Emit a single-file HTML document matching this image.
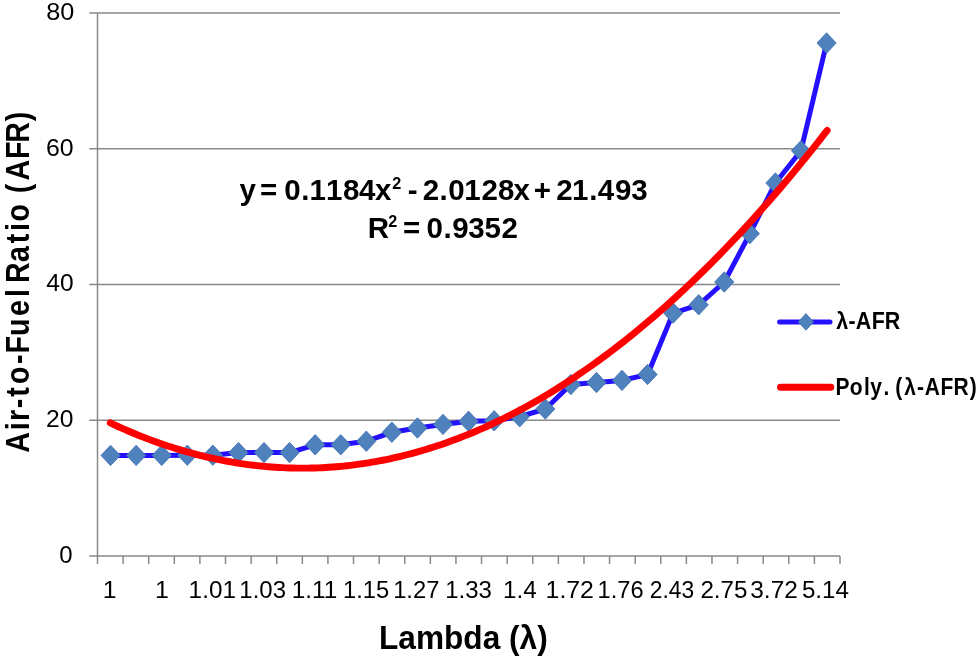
<!DOCTYPE html>
<html><head><meta charset="utf-8"><title>Air-to-Fuel Ratio vs Lambda</title>
<style>html,body{margin:0;padding:0;background:#fff;width:979px;height:659px;overflow:hidden}svg{display:block}</style>
</head><body>
<svg width="979" height="659" viewBox="0 0 979 659" font-family="Liberation Sans, Arial, sans-serif" fill="#000">
<rect width="979" height="659" fill="#fff"/>
<path d="M97.5 420.23H840.0M97.5 284.45H840.0M97.5 148.67H840.0M97.5 12.90H840.0M89.3 556.00H97.50M89.3 420.23H97.50M89.3 284.45H97.50M89.3 148.67H97.50M89.3 12.90H97.50M97.50 556.00H840.00M97.50 556.00V564.00M123.10 556.00V564.00M148.71 556.00V564.00M174.31 556.00V564.00M199.91 556.00V564.00M225.52 556.00V564.00M251.12 556.00V564.00M276.72 556.00V564.00M302.33 556.00V564.00M327.93 556.00V564.00M353.53 556.00V564.00M379.14 556.00V564.00M404.74 556.00V564.00M430.34 556.00V564.00M455.95 556.00V564.00M481.55 556.00V564.00M507.16 556.00V564.00M532.76 556.00V564.00M558.36 556.00V564.00M583.97 556.00V564.00M609.57 556.00V564.00M635.17 556.00V564.00M660.78 556.00V564.00M686.38 556.00V564.00M711.98 556.00V564.00M737.59 556.00V564.00M763.19 556.00V564.00M788.79 556.00V564.00M814.40 556.00V564.00M840.00 556.00V564.00M97.50 12.20V564.00" stroke="#898989" stroke-width="1.5" fill="none"/>
<text id="yl0" x="72.70" y="563.00" font-size="23.7" text-anchor="end" textLength="13.34" lengthAdjust="spacingAndGlyphs">0</text>
<text id="yl1" x="73.50" y="427.23" font-size="23.7" text-anchor="end" textLength="27.41" lengthAdjust="spacingAndGlyphs">20</text>
<text id="yl2" x="73.60" y="291.45" font-size="23.7" text-anchor="end" textLength="27.37" lengthAdjust="spacingAndGlyphs">40</text>
<text id="yl3" x="73.60" y="155.67" font-size="23.7" text-anchor="end" textLength="27.66" lengthAdjust="spacingAndGlyphs">60</text>
<text id="yl4" x="74.30" y="19.90" font-size="23.7" text-anchor="end" textLength="28.08" lengthAdjust="spacingAndGlyphs">80</text>
<text id="xl0" x="109.70" y="597.60" font-size="23.7" text-anchor="middle" textLength="13.83" lengthAdjust="spacingAndGlyphs">1</text>
<text id="xl1" x="161.91" y="597.60" font-size="23.7" text-anchor="middle" textLength="13.87" lengthAdjust="spacingAndGlyphs">1</text>
<text id="xl2" x="212.27" y="597.60" font-size="23.7" text-anchor="middle" textLength="47.27" lengthAdjust="spacingAndGlyphs">1.01</text>
<text id="xl3" x="262.67" y="597.60" font-size="23.7" text-anchor="middle" textLength="46.66" lengthAdjust="spacingAndGlyphs">1.03</text>
<text id="xl4" x="314.48" y="597.60" font-size="23.7" text-anchor="middle" textLength="45.57" lengthAdjust="spacingAndGlyphs">1.11</text>
<text id="xl5" x="366.14" y="597.60" font-size="23.7" text-anchor="middle" textLength="46.16" lengthAdjust="spacingAndGlyphs">1.15</text>
<text id="xl6" x="416.29" y="597.60" font-size="23.7" text-anchor="middle" textLength="46.25" lengthAdjust="spacingAndGlyphs">1.27</text>
<text id="xl7" x="468.60" y="597.60" font-size="23.7" text-anchor="middle" textLength="46.68" lengthAdjust="spacingAndGlyphs">1.33</text>
<text id="xl8" x="519.96" y="597.60" font-size="23.7" text-anchor="middle" textLength="33.68" lengthAdjust="spacingAndGlyphs">1.4</text>
<text id="xl9" x="569.76" y="597.60" font-size="23.7" text-anchor="middle" textLength="48.33" lengthAdjust="spacingAndGlyphs">1.72</text>
<text id="xl10" x="620.57" y="597.60" font-size="23.7" text-anchor="middle" textLength="45.94" lengthAdjust="spacingAndGlyphs">1.76</text>
<text id="xl11" x="671.93" y="597.60" font-size="23.7" text-anchor="middle" textLength="44.37" lengthAdjust="spacingAndGlyphs">2.43</text>
<text id="xl12" x="723.93" y="597.60" font-size="23.7" text-anchor="middle" textLength="47.11" lengthAdjust="spacingAndGlyphs">2.75</text>
<text id="xl13" x="774.04" y="597.60" font-size="23.7" text-anchor="middle" textLength="47.50" lengthAdjust="spacingAndGlyphs">3.72</text>
<text id="xl14" x="825.45" y="597.60" font-size="23.7" text-anchor="middle" textLength="47.09" lengthAdjust="spacingAndGlyphs">5.14</text>
<polyline points="110.6,455.4 136.2,455.4 161.7,455.4 187.3,455.2 212.9,455.2 238.4,452.6 264.0,452.6 289.6,452.6 315.2,444.8 340.7,444.8 366.3,441.2 391.9,432.3 417.4,428.0 443.0,424.4 468.6,421.3 494.1,420.8 519.7,416.7 545.3,409.0 570.9,384.5 596.4,382.5 622.0,380.4 647.6,374.5 673.1,313.1 698.7,304.8 724.3,282.0 749.9,233.6 775.4,183.0 801.0,150.7 826.6,43.0" fill="none" stroke="#2410FF" stroke-width="5" stroke-linejoin="round"/>
<g fill="#4F81BD" stroke="#4375B3" stroke-width="0.9" stroke-linejoin="round"><path d="M110.60 445.20L120.20 455.40L110.60 465.60L101.00 455.40Z"/><path d="M136.17 445.20L145.77 455.40L136.17 465.60L126.57 455.40Z"/><path d="M161.74 445.20L171.34 455.40L161.74 465.60L152.14 455.40Z"/><path d="M187.31 445.00L196.91 455.20L187.31 465.40L177.71 455.20Z"/><path d="M212.88 445.00L222.48 455.20L212.88 465.40L203.28 455.20Z"/><path d="M238.45 442.40L248.05 452.60L238.45 462.80L228.85 452.60Z"/><path d="M264.02 442.40L273.62 452.60L264.02 462.80L254.42 452.60Z"/><path d="M289.59 442.40L299.19 452.60L289.59 462.80L279.99 452.60Z"/><path d="M315.16 434.60L324.76 444.80L315.16 455.00L305.56 444.80Z"/><path d="M340.73 434.60L350.33 444.80L340.73 455.00L331.13 444.80Z"/><path d="M366.30 431.00L375.90 441.20L366.30 451.40L356.70 441.20Z"/><path d="M391.87 422.10L401.47 432.30L391.87 442.50L382.27 432.30Z"/><path d="M417.44 417.80L427.04 428.00L417.44 438.20L407.84 428.00Z"/><path d="M443.01 414.20L452.61 424.40L443.01 434.60L433.41 424.40Z"/><path d="M468.58 411.10L478.18 421.30L468.58 431.50L458.98 421.30Z"/><path d="M494.15 410.60L503.75 420.80L494.15 431.00L484.55 420.80Z"/><path d="M519.72 406.50L529.32 416.70L519.72 426.90L510.12 416.70Z"/><path d="M545.29 398.80L554.89 409.00L545.29 419.20L535.69 409.00Z"/><path d="M570.86 374.30L580.46 384.50L570.86 394.70L561.26 384.50Z"/><path d="M596.43 372.30L606.03 382.50L596.43 392.70L586.83 382.50Z"/><path d="M622.00 370.20L631.60 380.40L622.00 390.60L612.40 380.40Z"/><path d="M647.57 364.30L657.17 374.50L647.57 384.70L637.97 374.50Z"/><path d="M673.14 302.90L682.74 313.10L673.14 323.30L663.54 313.10Z"/><path d="M698.71 294.60L708.31 304.80L698.71 315.00L689.11 304.80Z"/><path d="M724.28 271.80L733.88 282.00L724.28 292.20L714.68 282.00Z"/><path d="M749.85 223.40L759.45 233.60L749.85 243.80L740.25 233.60Z"/><path d="M775.42 172.80L785.02 183.00L775.42 193.20L765.82 183.00Z"/><path d="M800.99 140.50L810.59 150.70L800.99 160.90L791.39 150.70Z"/><path d="M826.56 32.80L836.16 43.00L826.56 53.20L816.96 43.00Z"/></g>
<polyline points="110.30,422.95 113.89,424.62 117.47,426.26 121.06,427.87 124.64,429.45 128.22,431.00 131.81,432.51 135.39,433.99 138.98,435.45 142.56,436.87 146.15,438.25 149.73,439.61 153.32,440.94 156.90,442.23 160.48,443.49 164.07,444.72 167.65,445.92 171.24,447.09 174.82,448.23 178.41,449.33 181.99,450.41 185.58,451.45 189.16,452.46 192.74,453.44 196.33,454.39 199.91,455.30 203.50,456.19 207.08,457.04 210.67,457.86 214.25,458.65 217.84,459.41 221.42,460.14 225.01,460.83 228.59,461.50 232.17,462.13 235.76,462.73 239.34,463.30 242.93,463.84 246.51,464.34 250.10,464.82 253.68,465.26 257.27,465.67 260.85,466.05 264.43,466.40 268.02,466.72 271.60,467.01 275.19,467.26 278.77,467.48 282.36,467.67 285.94,467.83 289.53,467.96 293.11,468.06 296.69,468.12 300.28,468.16 303.86,468.16 307.45,468.13 311.03,468.07 314.62,467.98 318.20,467.85 321.79,467.70 325.37,467.51 328.96,467.29 332.54,467.04 336.12,466.76 339.71,466.45 343.29,466.11 346.88,465.73 350.46,465.32 354.05,464.88 357.63,464.41 361.22,463.91 364.80,463.38 368.38,462.81 371.97,462.22 375.55,461.59 379.14,460.93 382.72,460.24 386.31,459.52 389.89,458.76 393.48,457.98 397.06,457.16 400.64,456.31 404.23,455.43 407.81,454.52 411.40,453.58 414.98,452.60 418.57,451.60 422.15,450.56 425.74,449.49 429.32,448.39 432.91,447.26 436.49,446.09 440.07,444.90 443.66,443.67 447.24,442.41 450.83,441.12 454.41,439.80 458.00,438.45 461.58,437.07 465.17,435.65 468.75,434.20 472.33,432.72 475.92,431.21 479.50,429.67 483.09,428.10 486.67,426.49 490.26,424.86 493.84,423.19 497.43,421.49 501.01,419.76 504.59,418.00 508.18,416.20 511.76,414.38 515.35,412.52 518.93,410.63 522.52,408.71 526.10,406.76 529.69,404.78 533.27,402.77 536.86,400.72 540.44,398.64 544.02,396.53 547.61,394.39 551.19,392.22 554.78,390.02 558.36,387.78 561.95,385.52 565.53,383.22 569.12,380.89 572.70,378.53 576.28,376.14 579.87,373.71 583.45,371.26 587.04,368.77 590.62,366.25 594.21,363.70 597.79,361.12 601.38,358.51 604.96,355.86 608.54,353.19 612.13,350.48 615.71,347.74 619.30,344.97 622.88,342.17 626.47,339.34 630.05,336.47 633.64,333.57 637.22,330.65 640.81,327.69 644.39,324.70 647.97,321.67 651.56,318.62 655.14,315.53 658.73,312.42 662.31,309.27 665.90,306.09 669.48,302.88 673.07,299.63 676.65,296.36 680.23,293.05 683.82,289.71 687.40,286.34 690.99,282.94 694.57,279.51 698.16,276.05 701.74,272.55 705.33,269.03 708.91,265.47 712.49,261.88 716.08,258.26 719.66,254.60 723.25,250.92 726.83,247.20 730.42,243.46 734.00,239.68 737.59,235.87 741.17,232.03 744.76,228.15 748.34,224.25 751.92,220.31 755.51,216.34 759.09,212.35 762.68,208.31 766.26,204.25 769.85,200.16 773.43,196.03 777.02,191.88 780.60,187.69 784.18,183.47 787.77,179.22 791.35,174.93 794.94,170.62 798.52,166.27 802.11,161.90 805.69,157.49 809.28,153.05 812.86,148.57 816.44,144.07 820.03,139.54 823.61,134.97 827.20,130.37" fill="none" stroke="#FF0000" stroke-width="6.9" stroke-linecap="round" stroke-linejoin="round"/>
<text font-size="29.5" font-weight="bold"><tspan x="239.46 255.87 259.93 277.16 284.37 301.37 309.43 325.93 342.98 359.05 375.00" y="199.80">y = 0.1184x</tspan><tspan x="392.19" y="189.00" font-size="16.2">2</tspan><tspan x="399.56 407.75 417.58 422.78 439.52 448.27 464.28 481.48 498.03 513.45 529.86 533.81 551.04 556.23 572.03 589.37 597.75 614.98 631.14" y="199.80"> - 2.0128x + 21.493</tspan></text>
<text font-size="29.5" font-weight="bold"><tspan x="367.71" y="237.80">R</tspan><tspan x="388.29" y="227.00" font-size="16.2">2</tspan><tspan x="394.73 402.93 420.16 426.57 443.62 452.13 468.34 484.45 501.53" y="237.80"> = 0.9352</tspan></text>
<path d="M779.6 322H830" stroke="#2410FF" stroke-width="5" stroke-linecap="round"/>
<path d="M805.9 313.6L813.5 321.9L805.9 330.2L798.3 321.9Z" fill="#4F81BD" stroke="#4375B3" stroke-width="0.9" stroke-linejoin="round"/>
<path d="M780.5 387.2H830.8" stroke="#FF0000" stroke-width="6.9" stroke-linecap="round"/>
<text transform="scale(0.92 1)" x="909.03 922.16 930.25 947.69 961.75" y="329.40" font-size="23.3" font-weight="bold">λ-AFR</text>
<text transform="scale(0.9 1)" x="928.35 944.11 959.89 966.94 981.55 988.03 994.61 1004.70 1018.85 1027.38 1045.09 1059.55 1077.41" y="395.20" font-size="23.3" font-weight="bold">Poly. (λ-AFR)</text>
<text id="xt" x="379.00" y="648.90" font-size="32.5" font-weight="bold" textLength="168.67" lengthAdjust="spacingAndGlyphs">Lambda (λ)</text>
<g transform="translate(28.5 0) rotate(-90)"><text transform="scale(0.88 1)" x="-514.38 -489.04 -478.51 -463.86 -450.75 -436.40 -413.75 -401.72 -381.85 -359.12 -337.40 -328.37 -321.47 -297.63 -276.38 -262.57 -251.69 -231.84 -219.56 -205.06 -180.70 -162.26 -137.86" y="0.00" font-size="32.5" font-weight="bold">Air-to-Fuel Ratio (AFR)</text></g>
</svg>
</body></html>
